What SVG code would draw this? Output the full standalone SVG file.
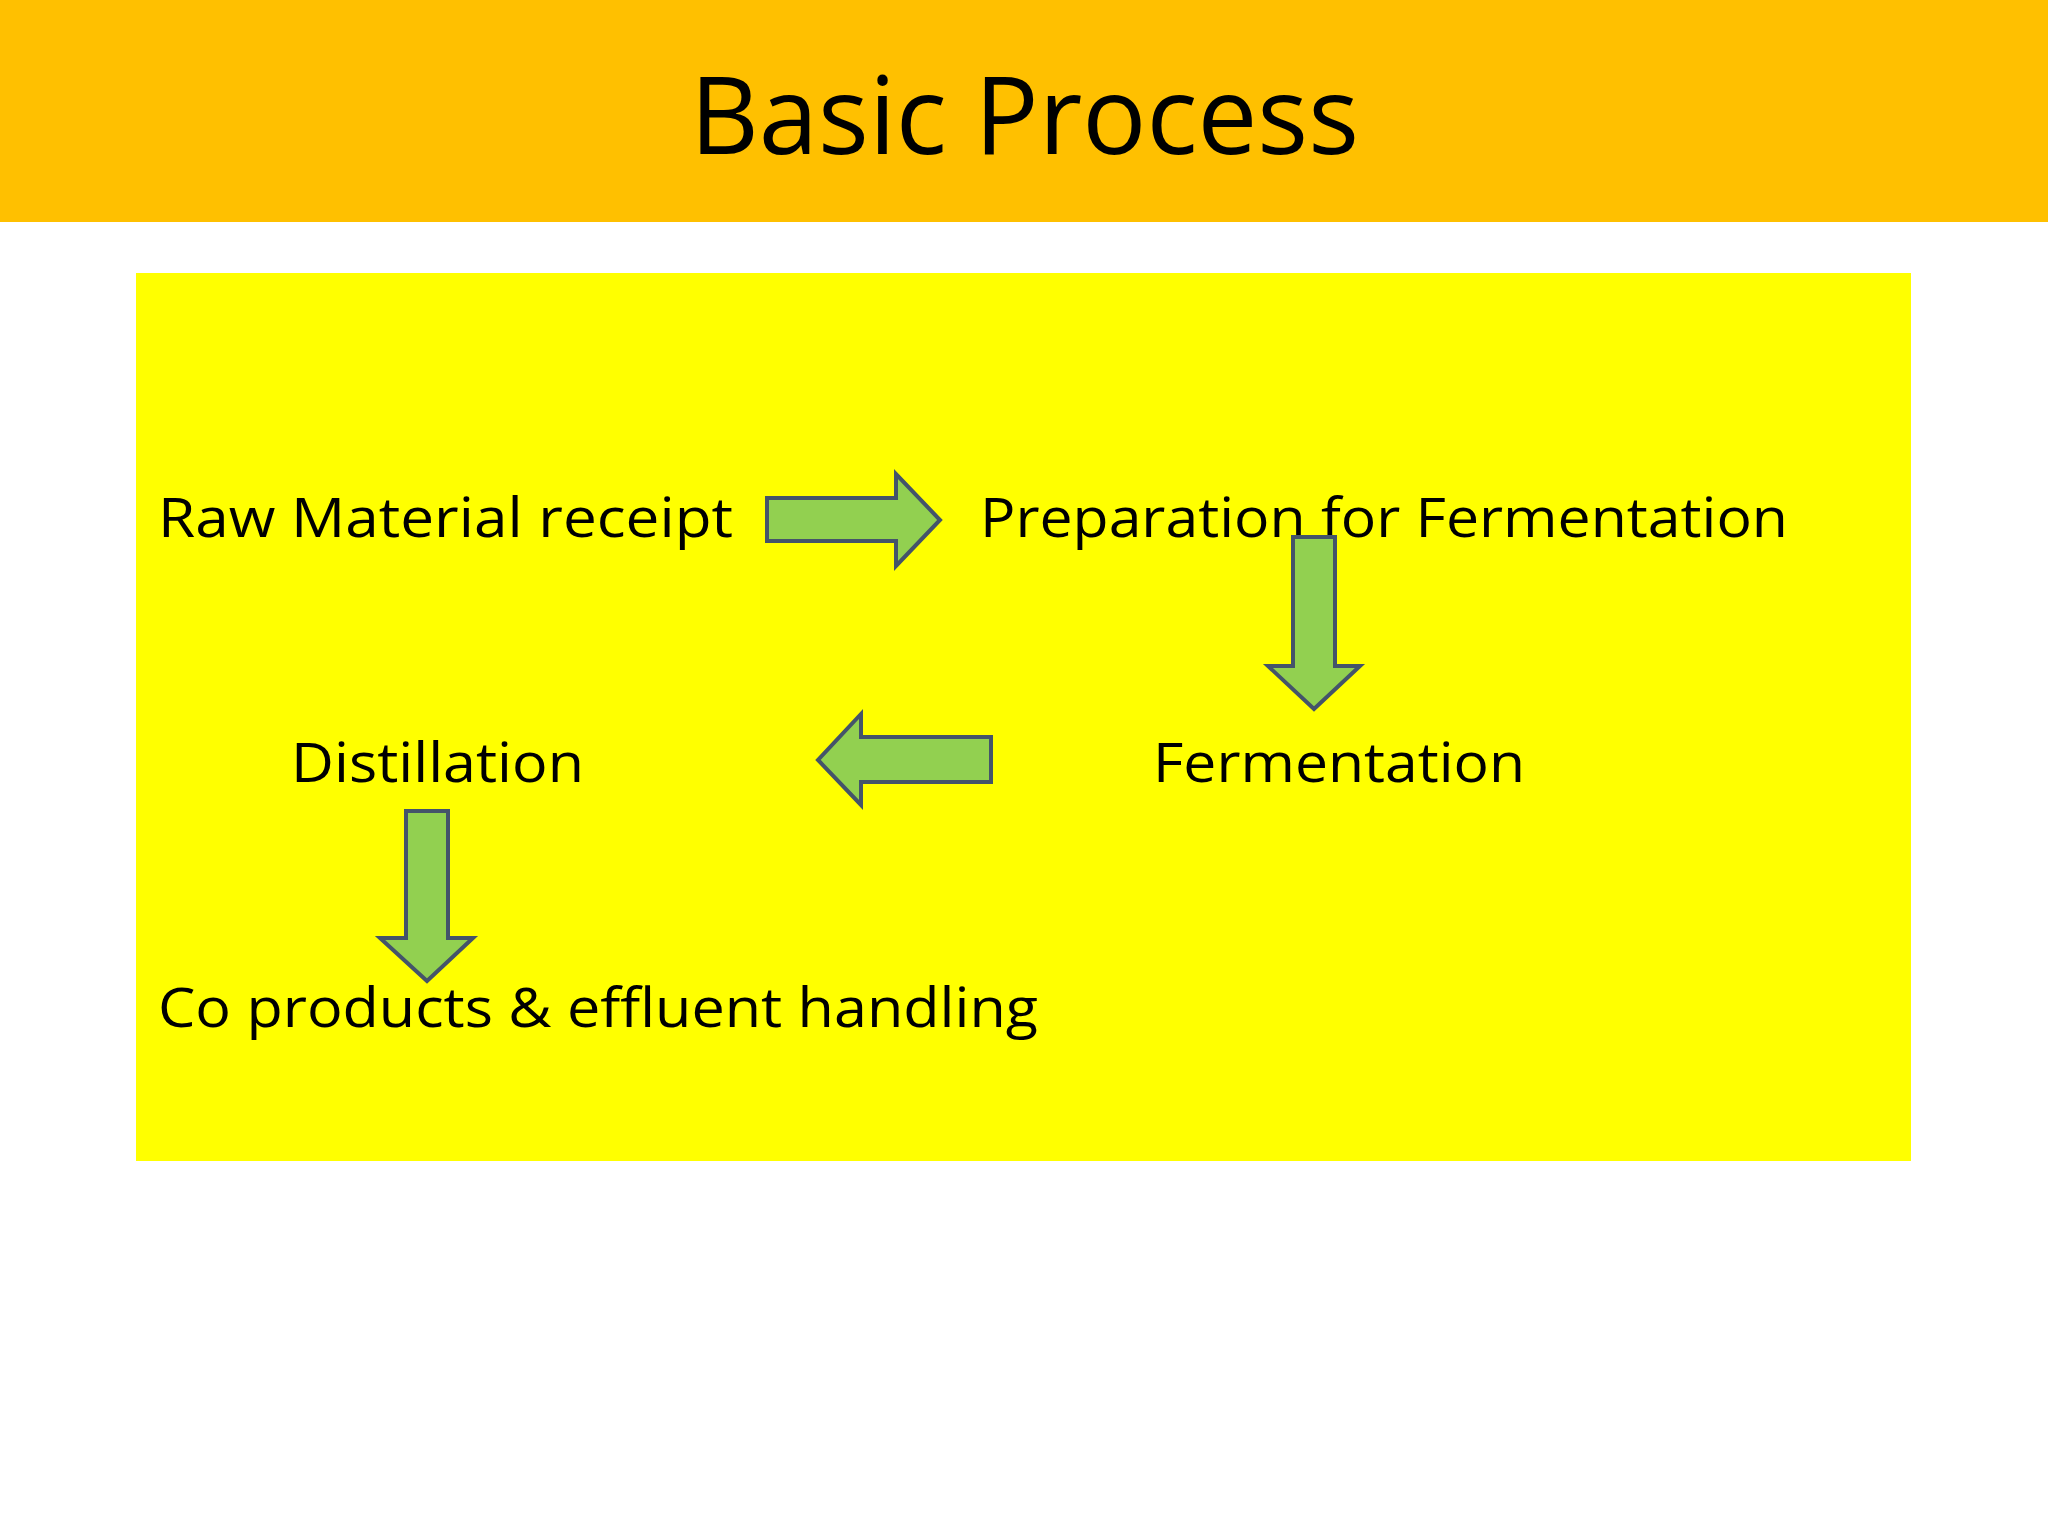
<svg xmlns="http://www.w3.org/2000/svg" width="2048" height="1536" viewBox="0 0 2048 1536">
<style>
.t{font-family:"Open Sans","Liberation Sans",sans-serif;font-size:55px;fill:#000}
.a{fill:#92D050;stroke:#44546A;stroke-width:4;stroke-linejoin:miter}
</style>
<rect width="2048" height="1536" fill="#fff"/>
<rect width="2048" height="222" fill="#FFC000"/>
<text x="690" y="154" textLength="669" lengthAdjust="spacingAndGlyphs" font-family="'Open Sans','Liberation Sans',sans-serif" font-size="108" fill="#000">Basic Process</text>
<rect x="136" y="273" width="1775" height="888" fill="#FFFF00"/>
<g id="n1"><text class="t" x="158" y="537" textLength="575" lengthAdjust="spacingAndGlyphs">Raw Material receipt</text></g>
<g id="n2"><text class="t" x="980" y="537" textLength="808" lengthAdjust="spacingAndGlyphs">Preparation for Fermentation</text></g>
<g id="n3"><text class="t" x="1153" y="782" textLength="372" lengthAdjust="spacingAndGlyphs">Fermentation</text></g>
<g id="n4"><text class="t" x="291" y="782" textLength="293" lengthAdjust="spacingAndGlyphs">Distillation</text></g>
<g id="n5"><text class="t" x="158" y="1027" textLength="880" lengthAdjust="spacingAndGlyphs">Co products &amp; effluent handling</text></g>
<g id="connectors">
<path class="a" d="M767,498 H896 V474 L940,520 L896,566 V541 H767 Z"/>
<path class="a" d="M1293,537 H1335 V666 H1360 L1314,709 L1268,666 H1293 Z"/>
<path class="a" d="M991,737 H861 V714 L818,760 L861,805 V782 H991 Z"/>
<path class="a" d="M406,811 H448 V938 H473 L427,981 L380,938 H406 Z"/>
</g>
</svg>
